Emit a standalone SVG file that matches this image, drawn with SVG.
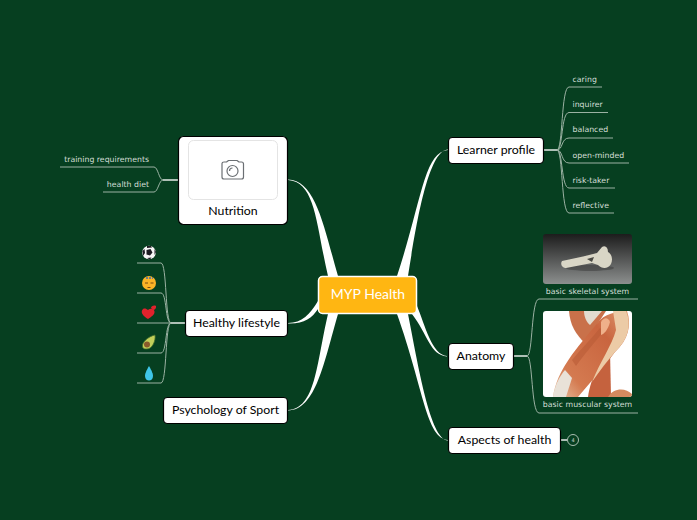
<svg xmlns="http://www.w3.org/2000/svg" width="697" height="520" viewBox="0 0 697 520">
<style>
.n{fill:#fff;stroke:#000;stroke-width:1.2}
.t{font-family:"Lato","Open Sans",sans-serif;font-size:12.3px;fill:#000;text-anchor:middle}
.l{font-family:"DejaVu Sans",sans-serif;font-size:7.8px;fill:#d5dfd8}
.b{fill:none;stroke:#9bb2a3;stroke-width:1}
.s{fill:none;stroke:#e6ece8;stroke-width:1.5}
.w{fill:#fff}
</style>
<defs>
<linearGradient id="g1" x1="0" y1="0" x2="0" y2="1"><stop offset="0" stop-color="#1c1c1c"/><stop offset="1" stop-color="#8c8f8e"/></linearGradient>
<linearGradient id="g2" x1="0" y1="1" x2="1" y2="0"><stop offset="0" stop-color="#e8c4a4"/><stop offset=".25" stop-color="#d47a50"/><stop offset=".7" stop-color="#c9653f"/><stop offset="1" stop-color="#e09a70"/></linearGradient>
<clipPath id="c1"><rect x="543" y="311" width="89" height="86" rx="3"/></clipPath>
</defs>
<rect width="697" height="520" fill="#063f20"/>
<g id="connectors">
<path class="w" d="M288 180C316 182 316 225 328 276L338 276C324 228 316 180 288 179.500Z"/>
<path class="w" d="M288 410C316 408 316 365 328 314L338 314C324 362 316 410 288 410.500Z"/>
<path class="w" d="M448 150C424 152 422 200 397 276L408 276C416 226 428 150 448 149.500Z"/>
<path class="w" d="M448 440C426 438 424 390 397 314L408 314C418 364 430 440 448 440.500Z"/>
<path class="w" d="M288 323C302 323 310 314 318 301L318 309C312 318 304 324 288 323.500Z"/>
<path class="w" d="M447 356.500C430 355 428 335 412 314L417 306C425 325 432 355 447 356Z"/>
<path class="s" d="M543 150H557M513 356H527M560 440H567M179 180H163M185 323H171"/>
<path class="b" d="M557 150C563 150 561 87 569 87H602M557 150C563 150 561 112.500 569 112.500H608M557 150C563 150 561 138 569 138H613M557 150C563 150 561 163 569 163H629M557 150C563 150 561 188 569 188H615M557 150C563 150 561 213 569 213H614"/>
<path class="b" d="M527 356C533 356 531 299 539 299H638M527 356C533 356 531 413 539 413H638"/>
<path class="b" d="M163 180C159 180 158 167 154 167H60M163 180C159 180 158 192 154 192H103"/>
<path class="b" d="M171 323C165 323 167 263 161 263H137M171 323C165 323 167 293 161 293H137M171 323H137M171 323C165 323 167 353 161 353H137M171 323C165 323 167 383 161 383H137"/>
</g>
<g id="central"><rect x="318.500" y="276.500" width="98" height="37" rx="4" fill="#ffb612" stroke="#fff" stroke-width="1.500"/><text x="368" y="299" font-family="Lato,sans-serif" font-size="14" fill="#fff" text-anchor="middle">MYP Health</text></g>
<g id="learner"><rect class="n" x="448.500" y="137.500" width="95" height="26" rx="4"/><text class="t" x="496" y="154">Learner profile</text></g>
<g id="anatomy"><rect class="n" x="448.500" y="343.500" width="65" height="26" rx="4"/><text class="t" x="481" y="360">Anatomy</text></g>
<g id="aspects"><rect class="n" x="448.500" y="427.500" width="112" height="26" rx="4"/><text class="t" x="504.500" y="444">Aspects of health</text></g>
<g id="nutrition"><rect class="n" x="178.500" y="136.500" width="109" height="88" rx="5"/><rect x="188.500" y="140.500" width="89" height="59" rx="5" fill="#fff" stroke="#e4e4e4"/><g fill="none" stroke="#6b6f73" stroke-width="1.200"><path d="M222 163.500Q222 162 224 162H226.500L228.500 160.500H237L239 162H241.500Q243.500 162 243.500 164V177Q243.500 179 241.500 179H224Q222 179 222 177Z" stroke-linejoin="round"/><circle cx="232.500" cy="171" r="5.500"/><path d="M229.500 171A3 3 0 0 1 232.500 168"/></g><text class="t" x="233" y="215">Nutrition</text></g>
<g id="healthy"><rect class="n" x="185.500" y="310.500" width="102" height="26" rx="4"/><text class="t" x="236.500" y="327">Healthy lifestyle</text></g>
<g id="psychology"><rect class="n" x="163.500" y="397.500" width="124" height="26" rx="4"/><text class="t" x="225.500" y="414">Psychology of Sport</text></g>
<g id="learner-topics">
<text class="l" x="572.500" y="82">caring</text><text class="l" x="572.500" y="107">inquirer</text><text class="l" x="572.500" y="132">balanced</text><text class="l" x="572.500" y="158">open-minded</text><text class="l" x="572.500" y="183">risk-taker</text><text class="l" x="572.500" y="208">reflective</text>
</g>
<g id="nutrition-topics"><text class="l" x="149" y="162" text-anchor="end">training requirements</text><text class="l" x="149" y="187" text-anchor="end">health diet</text></g>
<g id="skeletal"><rect x="543" y="234" width="89" height="50" rx="3" fill="url(#g1)"/><ellipse cx="590" cy="268" rx="24" ry="3" fill="#333" opacity=".45"/><path d="M562 261L583 256.500L597 253L602 247C605 245 608 247 608 252C612 254 613 260 611 264C608 269 602 269 598 265L592 263L566 268C562 268 560 264 562 261Z" fill="#d9d6c6"/><path d="M587 259L594 257L592 262Z" fill="#4a4a44"/><text class="l" x="587.500" y="294" text-anchor="middle">basic skeletal system</text></g>
<g id="muscular"><rect x="543" y="311" width="89" height="86" rx="3" fill="#fff"/><g clip-path="url(#c1)"><path d="M569 311H606L585 343C576 335 570 325 569 311Z" fill="#c9714a"/><path d="M584 311H602L590 325C586 322 584 316 584 311Z" fill="#e2dccf"/><path d="M588 397C590 380 600 360 610 350L611 397Z" fill="#c5623e"/><path d="M608 397C614 387 626 388 632 394V397Z" fill="#d58a5f"/><path d="M553 397C557 370 575 350 600 320C608 312 622 311 627 311C632 325 628 340 615 352C600 372 588 385 578 397Z" fill="url(#g2)"/><path d="M572 360C582 348 592 338 600 328L604 331C595 342 586 352 576 366Z" fill="#b95b37" opacity=".6"/><path d="M613 311H626C632 325 628 340 615 352C608 360 600 370 592 382C600 362 612 345 616 330Z" fill="#eccba6"/><path d="M601 322C604 317 608 317 610 322C608 330 604 334 601 335Z" fill="#efb08a"/><path d="M553 397C555 384 560 376 565 370L572 378L566 397Z" fill="#e9e2d8"/></g><text class="l" x="587.500" y="407" text-anchor="middle">basic muscular system</text></g>
<g id="collapse"><circle cx="573" cy="440" r="5.500" fill="none" stroke="#a9bdb0"/><text x="573" y="442" font-family="DejaVu Sans,sans-serif" font-size="5" fill="#cfdad3" text-anchor="middle">4</text></g>
<g id="emoji-ball"><circle cx="149" cy="252.500" r="6.800" fill="#f6f6f6"/><path d="M146.500 250L150.500 249L152.500 252.500L150 255.500L146.500 254.500Z" fill="#1c1c22"/><path d="M147 246L151 246L152 247.500L147 248ZM154.500 249L156 252L154.500 255ZM142.500 251L144.500 249L145 253L143 256ZM147 258L151.500 257.500L150 259.500Z" fill="#1c1c22"/></g>
<g id="emoji-sleep"><circle cx="149" cy="283" r="7" fill="#fbb326"/><path d="M145 283H148M150.500 283H153.500M147.500 287.500H150.500" stroke="#7a4a10" fill="none"/><path d="M146 278H153" stroke="#3b6db0" stroke-width="1.500" stroke-dasharray="2 1"/></g>
<g id="emoji-heart"><path d="M148 319C143 316 141 313 142 310.500C143 307.500 146 308 148 310C150 308 154 308.500 154.500 311.500C155 314.500 151 317 148 319Z" fill="#e0222c"/><path d="M151 308C151 306 154 305 156 306C156.500 308 155 310 153 310Z" fill="#e0222c"/></g>
<g id="emoji-avocado"><path d="M143 348C140 343 149 336 155 335C156 341 152 349 147 349C145 349 144 349 143 348Z" fill="#c2cf5a" stroke="#3f6b2a" stroke-width=".8"/><circle cx="147" cy="344.500" r="3" fill="#8a5a2b"/></g>
<g id="emoji-drop"><path d="M149 366C152 371 153 374 153 376C153 379 151 380.500 149 380.500C147 380.500 145 379 145 376C145 374 146 371 149 366Z" fill="#3fc6e8"/></g>
</svg>
